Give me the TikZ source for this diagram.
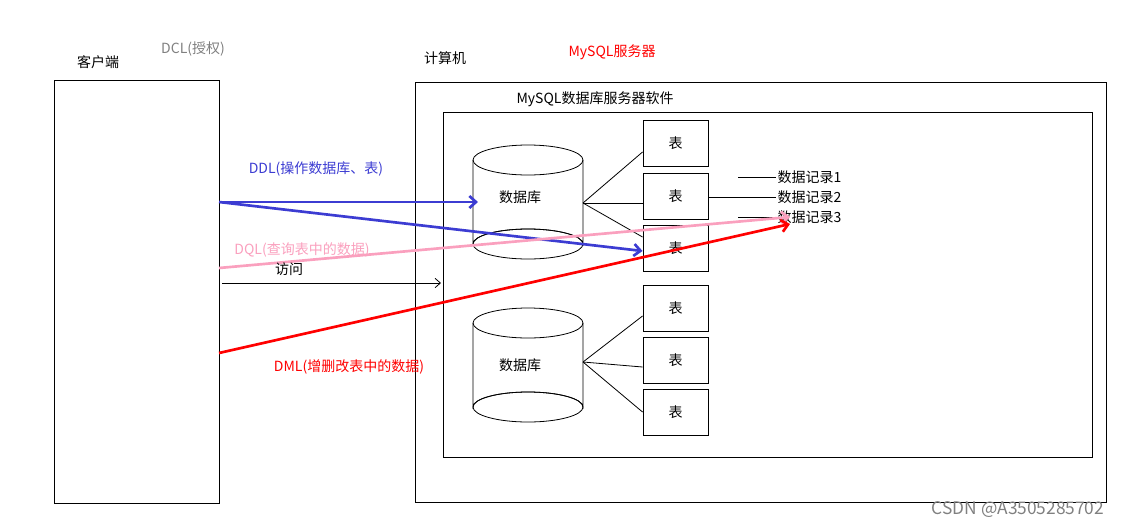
\documentclass[tikz,border=0pt]{standalone}
\usepackage{fontspec}
\setmainfont{Noto Sans CJK SC}
\usetikzlibrary{arrows.meta}
\definecolor{ddlc}{RGB}{60,60,210}
\definecolor{dqlc}{RGB}{250,160,190}
\begin{document}
\begin{tikzpicture}[x=0.75pt,y=-0.75pt,
  box/.style={draw,line width=0.7pt},
  lbl/.style={font=\fontsize{10.5}{12}\selectfont,inner sep=1pt},
  tbl/.style={draw,line width=0.7pt,minimum width=48.75pt,minimum height=34.5pt,font=\fontsize{10.5}{12}\selectfont},
  thin/.style={line width=0.6pt}]
\useasboundingbox (0,0) rectangle (1136,529);
\draw[box] (54,80) rectangle (219,503);
\node[lbl] (client) at (98,62) {客户端};
\node[lbl,text=gray] (dcl) at (193,49) {DCL(授权)};
\draw[box] (415,82) rectangle (1106,502);
\node[lbl] (pc) at (445,58) {计算机};
\node[lbl,text=red] (srv) at (612,52) {MySQL服务器};
\draw[box] (443,112) rectangle (1092,457);
\node[lbl] (sw) at (595,99) {MySQL数据库服务器软件};
% cylinders
\foreach \t/\b/\n in {160/244/a,323/407/b}{
  \draw[thin] (473,\t) -- (473,\b) arc[start angle=180,end angle=360,x radius=55,y radius=15] -- (583,\t);
  \draw[thin] (528,\t) ellipse[x radius=55,y radius=15];
  \draw[thin] (528,\b) ellipse[x radius=55,y radius=15];
}
\node[lbl] (db1) at (520,197) {数据库};
\node[lbl] (db2) at (520,365) {数据库};
\coordinate (c1) at (583,203);
\coordinate (c2) at (583,362);
\node[tbl] (t1) at (675.5,143.5) {表};
\node[tbl] (t2) at (675.5,196) {表};
\node[tbl] (t3) at (675.5,248.5) {表};
\node[tbl] (t4) at (675.5,308) {表};
\node[tbl] (t5) at (675.5,360) {表};
\node[tbl] (t6) at (675.5,412) {表};
\draw[thin] (c1) -- (t1.west|-0,152); \draw[thin] (c1) -- (t2.west|-0,203); \draw[thin] (c1) -- (t3.west|-0,237);
\draw[thin] (c2) -- (t4.west|-0,316); \draw[thin] (c2) -- (t5.west|-0,367); \draw[thin] (c2) -- (t6.west|-0,412);
\node[lbl,anchor=west] (r1) at (776,177) {数据记录1};
\node[lbl,anchor=west] (r2) at (776,197) {数据记录2};
\node[lbl,anchor=west] (r3) at (776,217) {数据记录3};
\draw[thin] (738,177) -- (r1.west);
\draw[thin] (t2.east|-r2) -- (r2.west);
\draw[thin] (738,217) -- (r3.west);
% arrows
\coordinate (ddl0) at (219,202);
\draw[ddlc,line width=2pt,-{Straight Barb[length=5pt,width=9pt]}] (ddl0) -- (478,202);
\draw[ddlc,line width=2pt,-{Straight Barb[length=5pt,width=9pt]}] (ddl0) -- (t3.west|-0,251);
\node[lbl,text=ddlc] (ddl) at (316,169) {DDL(操作数据库、表)};
\coordinate (dql0) at (219,268);
\draw[dqlc,line width=2pt,-{Straight Barb[length=5pt,width=9pt]}] (dql0) -- (790,217);
\node[lbl,text=dqlc] (dql) at (302,250) {DQL(查询表中的数据)};
\coordinate (fw0) at (222,283);
\draw[thin,-{Straight Barb[length=4pt,width=7pt]}] (fw0) -- (441,283);
\node[lbl] (fw) at (289,269) {访问};
\coordinate (dml0) at (219,353);
\draw[red,line width=2pt,-{Straight Barb[length=5pt,width=9pt]}] (dml0) -- (790,224);
\node[lbl,text=red] (dml) at (349,367) {DML(增删改表中的数据)};
\node[lbl,text=gray,font=\fontsize{13}{15}\selectfont] (wm) at (1018,510) {CSDN @A3505285702};
\end{tikzpicture}
\end{document}
